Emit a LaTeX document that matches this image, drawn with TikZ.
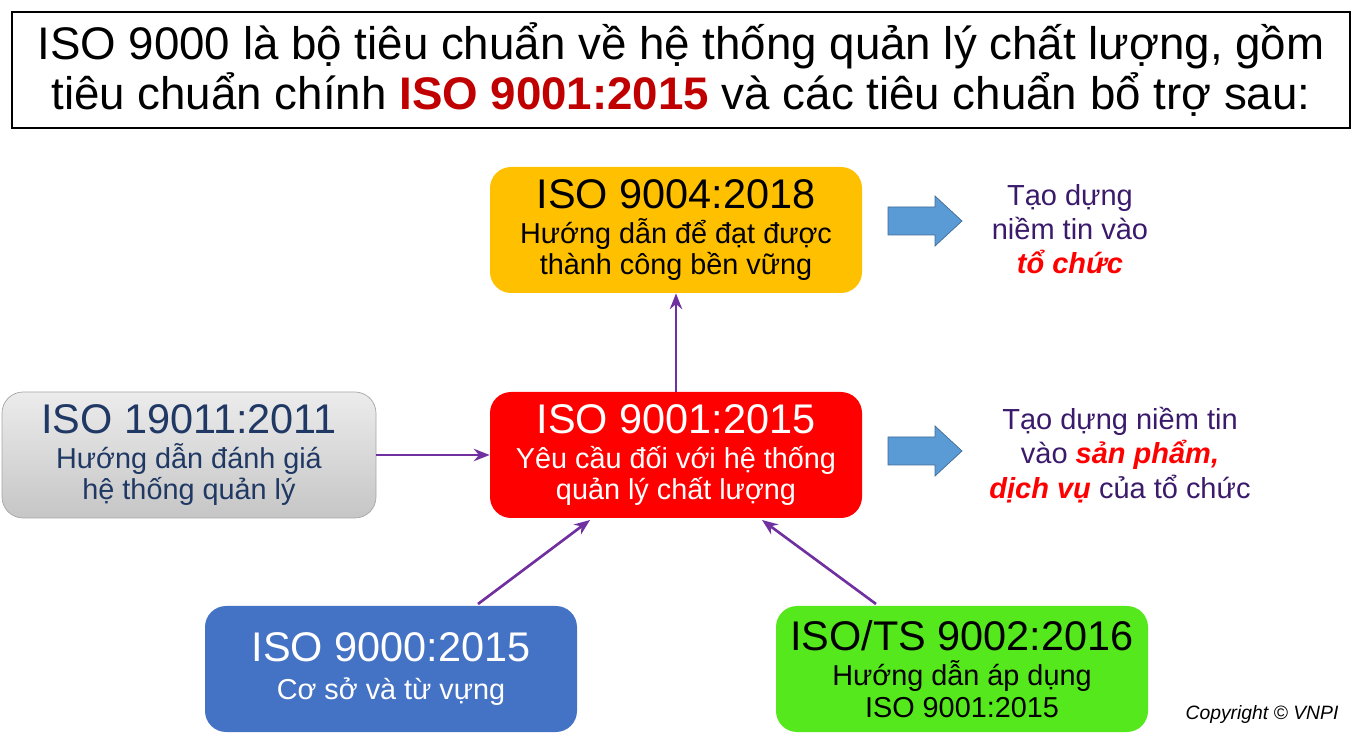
\documentclass[tikz,border=0pt]{standalone}
\usepackage{fontspec}
\setmainfont{Liberation Sans}
\usetikzlibrary{arrows.meta}
\definecolor{isoorange}{HTML}{FFC000}
\definecolor{isored}{HTML}{FF0000}
\definecolor{isoblue}{HTML}{4472C4}
\definecolor{isogreen}{HTML}{55E81C}
\definecolor{isonavy}{HTML}{1F3864}
\definecolor{linkpurple}{HTML}{7030A0}
\definecolor{notepurple}{HTML}{3A1A6A}
\definecolor{darkred}{HTML}{C00000}
\definecolor{arrowblue}{HTML}{5B9BD5}
\newcommand{\isobig}{\fontsize{23.6}{25}\selectfont}
\begin{document}
\begin{tikzpicture}
        [
          x=0.02cm, y=-0.02cm,
          stdbox/.style={rounded corners=12pt, minimum width=372*0.02cm, minimum height=126*0.02cm,
            align=center, inner sep=0pt, font=\fontsize{16.4}{18}\selectfont},
          link/.style={draw=linkpurple, line width=1.5pt, -{Stealth[length=9pt,width=7pt]}},
          fat/.style={draw=arrowblue!70!black, fill=arrowblue},
          note/.style={align=center, text=notepurple, font=\fontsize{16.5}{19.5}\selectfont}
        ]
        \useasboundingbox (0,0) rectangle (1362,742);
        % title
        \node (title) [draw, line width=1pt, minimum width=1338*0.02cm, minimum height=116*0.02cm,
          align=center, font=\fontsize{26}{28.5}\selectfont] at (681,70)
          {ISO 9000 là bộ tiêu chuẩn về hệ thống quản lý chất lượng, gồm\\
           tiêu chuẩn chính \textcolor{darkred}{\textbf{ISO 9001:2015}} và các tiêu chuẩn bổ trợ sau:};
        % boxes
        \node (s9004) [stdbox, fill=isoorange] at (676,230)
          {{\isobig ISO 9004:2018}\\[2pt]Hướng dẫn để đạt được\\thành công bền vững};
        \node (s9001) [stdbox, fill=isored, text=white] at (676,455)
          {{\isobig ISO 9001:2015}\\[2pt]Yêu cầu đối với hệ thống\\quản lý chất lượng};
        \node (s19011) [stdbox, draw=gray!70, top color=gray!15, bottom color=gray!45, text=isonavy,
          minimum width=374*0.02cm] at (189,455)
          {{\isobig ISO 19011:2011}\\[2pt]Hướng dẫn đánh giá\\hệ thống quản lý};
        \node (s9000) [stdbox, fill=isoblue, text=white] at (391,669)
          {{\isobig ISO 9000:2015}\\[4pt]Cơ sở và từ vựng};
        \node (s9002) [stdbox, fill=isogreen] at (962,669)
          {{\isobig ISO/TS 9002:2016}\\[2pt]Hướng dẫn áp dụng\\ISO 9001:2015};
        % links
        \draw [link] (s9001.north) -- (s9004.south);
        \draw [link] (s19011.east) -- (s9001.west);
        \draw [link] (478,604) -- (590,520);
        \draw [link] (876,604) -- (762,520);
        % outcomes
        \foreach \y in {221,451} {
            \draw [fat] (888,\y-14) -- (935,\y-14) -- (935,\y-25) -- (962,\y)
              -- (935,\y+25) -- (935,\y+14) -- (888,\y+14) -- cycle;
        }
        \node (note1) [note] at (1070,229)
          {Tạo dựng\\niềm tin vào\\\textcolor{isored}{\textbf{\textit{tổ chức}}}};
        \node (note2) [note] at (1120,455)
          {Tạo dựng niềm tin\\vào \textcolor{isored}{\textbf{\textit{sản phẩm,}}}\\
           \textcolor{isored}{\textbf{\textit{dịch vụ}}} của tổ chức};
        \node (copy) [font=\fontsize{11}{12}\selectfont\itshape] at (1262,715) {Copyright © VNPI};
\end{tikzpicture}
\end{document}
